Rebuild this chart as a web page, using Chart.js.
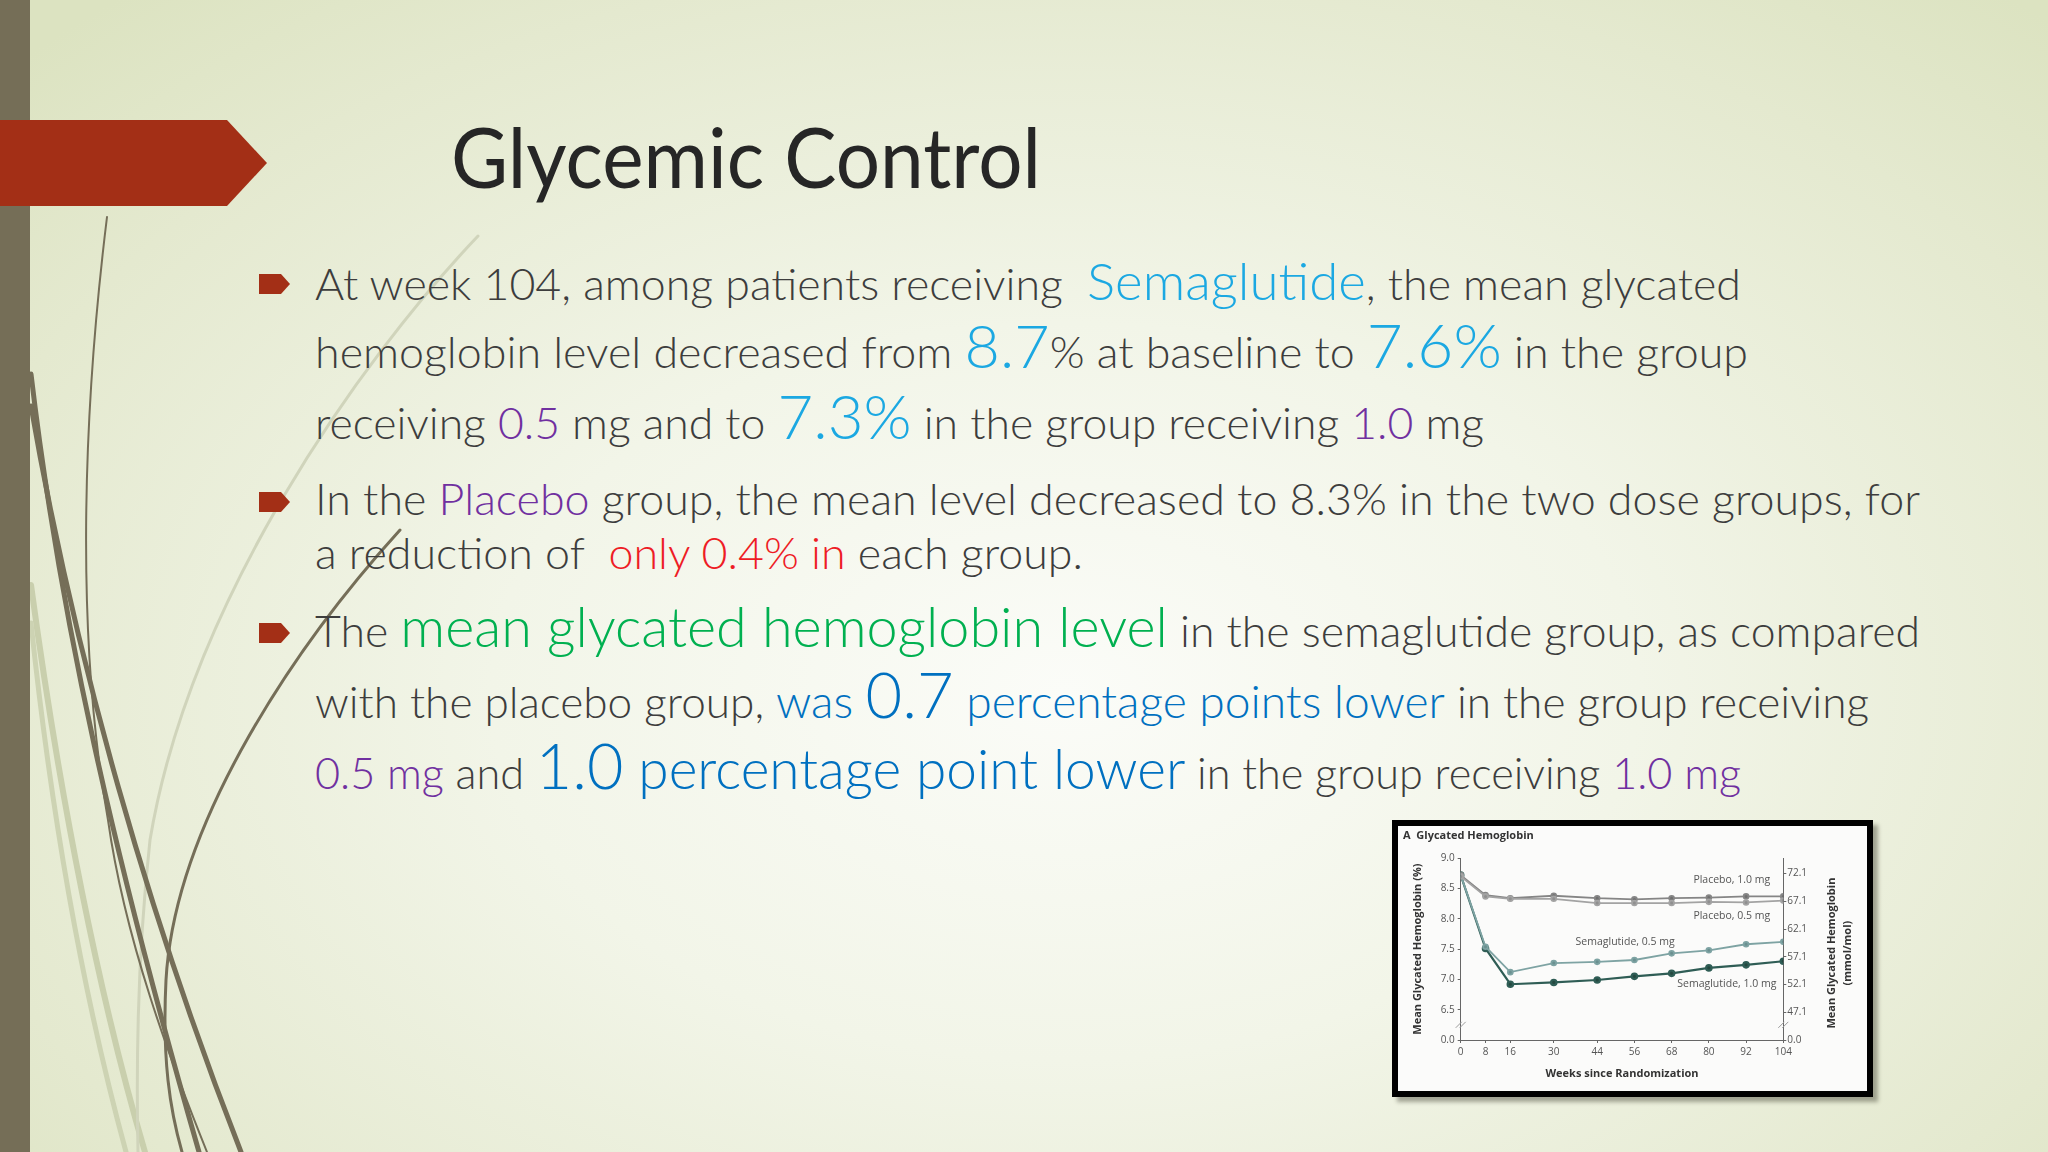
<!DOCTYPE html>
<html>
<head>
<meta charset="utf-8">
<title>Glycemic Control</title>
<script src="https://cdn.jsdelivr.net/npm/chart.js@4.4.1/dist/chart.umd.min.js"></script>
<style>
  html, body { margin: 0; padding: 0; }
  body {
    width: 2048px; height: 1152px; overflow: hidden; position: relative;
    background: radial-gradient(ellipse 70% 80% at 52% 60%, #fbfcf8 0%, #f2f5e8 40%, #e4e9cf 80%, #dce3c1 100%);
  }
  #slide { position: absolute; left: 0; top: 0; }
  #slide text { white-space: pre; }
  #box {
    position: absolute; left: 1392px; top: 820px;
    width: 469px; height: 265px;
    border: 6px solid #000; background: #fbfbfa;
    box-shadow: 5px 5px 4px rgba(70, 70, 55, 0.45);
  }
  #box canvas { display: block; }
</style>
</head>
<body>

<svg id="slide" width="2048" height="1152" viewBox="0 0 2048 1152" xmlns="http://www.w3.org/2000/svg">
  <!-- wisp lines on the left -->
  <g fill="none" stroke-linecap="round">
    <path d="M31,585 C60,800 100,1000 145,1152" stroke="#c9cfad" stroke-width="6"/>
    <path d="M31,623 C55,850 90,1020 126,1152" stroke="#cdd3b3" stroke-width="5"/>
    <path d="M478,236 C360,360 190,600 150,840 C138,950 136,1060 138,1152" stroke="#d0d4bb" stroke-width="3"/>
    <path d="M31,374 C60,620 115,860 199,1152" stroke="#756e58" stroke-width="5"/>
    <path d="M31,406 C75,660 150,920 241,1152" stroke="#756e58" stroke-width="5"/>
    <path d="M107,217 C82,420 76,640 108,820 C125,940 170,1060 207,1152" stroke="#756e58" stroke-width="2"/>
    <path d="M400,530 C300,640 175,820 166,980 C162,1060 170,1110 182,1152" stroke="#756e58" stroke-width="3"/>
  </g>
  <rect x="0" y="0" width="30" height="1152" fill="#756e57"/>
  <polygon points="0,120 227,120 267,163 227,206 0,206" fill="#a32f16"/>

  <text x="451" y="188" font-family="Lato, 'Open Sans', sans-serif" font-weight="400" font-size="84" fill="#262626"
        textLength="590" lengthAdjust="spacingAndGlyphs">Glycemic Control</text>

  <!-- bullets -->
  <g fill="#a32f16">
    <polygon points="259,274 281,274 290,284 281,294 259,294"/>
    <polygon points="259,492 281,492 290,502 281,512 259,512"/>
    <polygon points="259,623 281,623 290,633 281,643 259,643"/>
  </g>

  <g font-family="'Lato Light', Lato, 'Open Sans', sans-serif" font-weight="300" font-size="44" fill="#3d3d3d">
    <text x="315" y="300" textLength="1426" lengthAdjust="spacingAndGlyphs">At week 104, among patients receiving  <tspan fill="#1ba8e2" font-size="52">Semaglutide</tspan>, the mean glycated</text>
    <text x="315" y="368" textLength="1433" lengthAdjust="spacingAndGlyphs">hemoglobin level decreased from <tspan fill="#1ba8e2" font-size="60">8.7</tspan>% at baseline to <tspan fill="#1ba8e2" font-size="61">7.6%</tspan> in the group</text>
    <text x="315" y="439" textLength="1169" lengthAdjust="spacingAndGlyphs">receiving <tspan fill="#7030a0">0.5</tspan> mg and to <tspan fill="#1ba8e2" font-size="61">7.3%</tspan> in the group receiving <tspan fill="#7030a0">1.0</tspan> mg</text>
    <text x="315" y="515" textLength="1605" lengthAdjust="spacingAndGlyphs">In the <tspan fill="#7030a0">Placebo</tspan> group, the mean level decreased to 8.3% in the two dose groups, for</text>
    <text x="315" y="569" textLength="768" lengthAdjust="spacingAndGlyphs">a reduction of  <tspan fill="#ee1c25">only 0.4% in</tspan> each group.</text>
    <text x="315" y="647" textLength="1605" lengthAdjust="spacingAndGlyphs">The <tspan fill="#00b050" font-size="55">mean glycated hemoglobin level</tspan> in the semaglutide group, as compared</text>
    <text x="315" y="718" textLength="1554" lengthAdjust="spacingAndGlyphs">with the placebo group, <tspan fill="#0070c0" font-size="46">was </tspan><tspan fill="#0070c0" font-size="63">0.7</tspan><tspan fill="#0070c0" font-size="46"> percentage points lower</tspan> in the group receiving</text>
    <text x="315" y="789" textLength="1426" lengthAdjust="spacingAndGlyphs"><tspan fill="#7030a0">0.5 mg</tspan> and <tspan fill="#0070c0" font-size="64">1.0</tspan><tspan fill="#0070c0" font-size="56"> percentage point lower</tspan> in the group receiving <tspan fill="#7030a0">1.0 mg</tspan></text>
  </g>
</svg>

<div id="box"><canvas id="hba1cChart" width="469" height="265"></canvas></div>

<script>
// Glycated hemoglobin (%) by week
const weeks = [0, 8, 16, 30, 44, 56, 68, 80, 92, 104];
const placebo10 = [8.72, 8.39, 8.34, 8.38, 8.34, 8.32, 8.34, 8.35, 8.37, 8.37];
const placebo05 = [8.70, 8.37, 8.33, 8.33, 8.26, 8.26, 8.26, 8.28, 8.27, 8.30];
const sema05 = [8.72, 7.54, 7.12, 7.27, 7.29, 7.32, 7.43, 7.48, 7.58, 7.62];
const sema10 = [8.72, 7.51, 6.92, 6.95, 6.99, 7.05, 7.10, 7.19, 7.24, 7.30];

const seriesNames = ['Placebo, 1.0 mg', 'Placebo, 0.5 mg', 'Semaglutide, 0.5 mg', 'Semaglutide, 1.0 mg'];

// axis ticks (left axis is broken: the bottom tick is printed as 0.0)
const leftTicks = [6.0, 6.5, 7.0, 7.5, 8.0, 8.5, 9.0];
const leftTickLabels = ['0.0', '6.5', '7.0', '7.5', '8.0', '8.5', '9.0'];
const rightTicks = [47.1, 52.1, 57.1, 62.1, 67.1, 72.1];
const rightTitle = ['Mean Glycated Hemoglobin', '(mmol/mol)'];

// where the series names sit, in (week, %) units
const labelSpots = [[87.4, 8.64], [87.4, 8.04], [53, 7.62], [85.8, 6.92]];

// % -> mmol/mol, used only to line up the right axis
const toMmol = v => 10.93 * v - 23.5;

const font = "'Open Sans', 'Liberation Sans', sans-serif";
Chart.defaults.font.family = font;

const pts = vals => weeks.map((w, i) => ({ x: w, y: vals[i] }));

const overlay = {
  id: 'overlay',
  afterDraw(chart) {
    const { ctx, chartArea: a, scales: { x, y } } = chart;
    ctx.save();
    // series names
    ctx.font = '10.5px ' + font;
    ctx.fillStyle = '#555';
    ctx.textAlign = 'center';
    ctx.textBaseline = 'middle';
    seriesNames.forEach((name, i) => {
      ctx.fillText(name, x.getPixelForValue(labelSpots[i][0]), y.getPixelForValue(labelSpots[i][1]));
    });
    // axis break marks
    ctx.strokeStyle = '#9a9a9a';
    ctx.lineWidth = 1;
    const by = y.getPixelForValue(6.25);
    [a.left, a.right].forEach(px => {
      [-2, 2].forEach(d => {
        ctx.beginPath();
        ctx.moveTo(px - 3 + d, by + 3);
        ctx.lineTo(px + 3 + d, by - 3);
        ctx.stroke();
      });
    });
    // right axis title, reading bottom to top like the left one
    ctx.font = 'bold 11px ' + font;
    ctx.fillStyle = '#333';
    ctx.translate(a.right + 48.4, (a.top + a.bottom) / 2 + 4);
    ctx.rotate(-Math.PI / 2);
    ctx.fillText(rightTitle[0], 0, 0);
    ctx.fillText(rightTitle[1], 0, 16.6);
    ctx.restore();
  }
};

const axisGrid = { drawOnChartArea: false, tickLength: 3, color: '#666' };
const axisBorder = { color: '#666', width: 1 };

new Chart(document.getElementById('hba1cChart').getContext('2d'), {
  type: 'line',
  data: {
    datasets: [
      { label: seriesNames[1], data: pts(placebo05), borderColor: '#a3a3a3', backgroundColor: '#8f8f8f', borderWidth: 1.8, pointRadius: 2.4 },
      { label: seriesNames[0], data: pts(placebo10), borderColor: '#858585', backgroundColor: '#6f6f6f', borderWidth: 1.8, pointRadius: 2.4 },
      { label: seriesNames[2], data: pts(sema05), borderColor: '#7ea3a3', backgroundColor: '#6a9090', borderWidth: 1.8, pointRadius: 2.4 },
      { label: seriesNames[3], data: pts(sema10), borderColor: '#2f5d55', backgroundColor: '#24483f', borderWidth: 2.2, pointRadius: 2.7 }
    ]
  },
  options: {
    responsive: false,
    animation: false,
    layout: { padding: { left: 5, right: 0, top: 0, bottom: 0 } },
    elements: { line: { tension: 0 }, point: { borderWidth: 0 } },
    plugins: {
      legend: { display: false },
      tooltip: { enabled: false },
      title: {
        display: true, text: 'A  Glycated Hemoglobin', align: 'start', color: '#333',
        font: { size: 11, weight: 'bold' }, padding: { top: 3, bottom: 16 }
      }
    },
    scales: {
      x: {
        type: 'linear', min: 0, max: 104,
        afterBuildTicks: s => { s.ticks = weeks.map(v => ({ value: v })); },
        afterFit: s => { s.height = 51; },
        grid: axisGrid, border: axisBorder,
        ticks: { color: '#555', font: { size: 10 }, padding: 3, maxRotation: 0, autoSkip: false },
        title: { display: true, text: 'Weeks since Randomization', color: '#333', font: { size: 11, weight: 'bold' }, padding: { top: 0, bottom: 11 } }
      },
      y: {
        position: 'left', min: 6, max: 9,
        afterBuildTicks: s => { s.ticks = leftTicks.map(v => ({ value: v })); },
        afterFit: s => { s.width = 57.7; },
        grid: axisGrid, border: axisBorder,
        ticks: { color: '#555', font: { size: 10 }, padding: 3, autoSkip: false, callback: (v, i) => leftTickLabels[i] },
        title: { display: true, text: 'Mean Glycated Hemoglobin (%)', color: '#333', font: { size: 11, weight: 'bold' }, padding: { top: 8, bottom: 0 } }
      },
      y2: {
        position: 'right', min: toMmol(6), max: toMmol(9),
        afterBuildTicks: s => { s.ticks = [toMmol(6)].concat(rightTicks).map(v => ({ value: v })); },
        afterFit: s => { s.width = 83.7; },
        grid: axisGrid, border: axisBorder,
        ticks: { color: '#555', font: { size: 10 }, padding: 1, autoSkip: false, callback: v => (v < 45 ? '0.0' : v.toFixed(1)) }
      }
    }
  },
  plugins: [overlay]
});
</script>
</body>
</html>
